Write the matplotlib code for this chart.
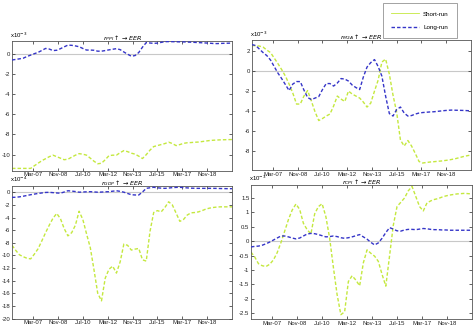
import numpy as np
import pandas as pd
import matplotlib
matplotlib.use('Agg')
import matplotlib.pyplot as plt
from matplotlib.ticker import FuncFormatter

plt.rcParams['font.family'] = ['Liberation Sans', 'DejaVu Sans']
plt.rcParams['axes.unicode_minus'] = False
plt.rcParams['mathtext.fontset'] = 'dejavusans'

# quarterly dates, Q4 2005 .. Q3 2020
dates = pd.date_range('2005-10-01', periods=60, freq='QS')
tick_dates = pd.to_datetime(['2007-03-01', '2008-11-01', '2010-07-01', '2012-03-01',
                             '2013-11-01', '2015-07-01', '2017-03-01', '2018-11-01'])
tick_labels = [d.strftime('%b-%y') for d in tick_dates]

# responses, already divided by the power of ten shown above each panel
ppi_short = [-11.36, -11.36, -11.36, -11.36, -11.36, -11.36, -11.1, -10.85, -10.6, -10.4,
             -10.2, -10.05, -10.2, -10.35, -10.5, -10.45, -10.25, -10.05, -9.9, -9.95,
             -10.05, -10.35, -10.65, -10.9, -10.85, -10.5, -10.1, -10.05, -10.05, -9.8,
             -9.6, -9.7, -9.85, -9.95, -10.15, -10.38, -10.0, -9.55, -9.2, -9.1,
             -9.0, -8.9, -8.76, -8.9, -9.1, -9.0, -8.88, -8.82, -8.8, -8.77,
             -8.75, -8.7, -8.65, -8.6, -8.57, -8.55, -8.53, -8.52, -8.51, -8.5]
ppi_long = [-0.62, -0.57, -0.51, -0.45, -0.28, -0.14, 0.0, 0.13, 0.32, 0.52,
            0.46, 0.31, 0.34, 0.5, 0.68, 0.85, 0.83, 0.77, 0.69, 0.52,
            0.36, 0.36, 0.34, 0.25, 0.25, 0.31, 0.38, 0.44, 0.5, 0.4,
            0.17, -0.05, -0.25, -0.18, 0.12, 0.65, 1.1, 1.06, 1.02, 1.05,
            1.12, 1.19, 1.2, 1.19, 1.18, 1.17, 1.17, 1.15, 1.14, 1.12,
            1.1, 1.08, 1.06, 1.04, 1.01, 1.0, 1.02, 1.03, 1.04, 1.05]

m2a_short = [2.55, 2.55, 2.5, 2.4, 2.1, 1.85, 1.3, 0.75, 0.15, -0.5,
             -1.3, -2.2, -3.3, -3.3, -2.5, -1.95, -3.0, -4.1, -4.95, -4.75,
             -4.5, -4.3, -3.5, -2.5, -2.8, -3.05, -2.0, -2.3, -2.5, -2.7,
             -3.1, -3.6, -3.2, -2.0, -0.9, 0.9, 1.2, -0.3, -2.4, -4.15,
             -6.9, -7.5, -6.95, -7.5, -8.25, -9.05, -9.2, -9.15, -9.1, -9.07,
             -9.03, -9.0, -8.95, -8.9, -8.83, -8.75, -8.65, -8.55, -8.47, -8.4]
m2a_long = [2.65, 2.55, 2.2, 1.85, 1.55, 1.1, 0.45, -0.2, -0.75, -1.35,
            -1.95, -1.3, -1.05, -1.05, -1.9, -2.65, -2.85, -2.7, -2.55, -1.85,
            -1.25, -1.25, -1.5, -1.2, -0.75, -0.8, -1.0, -1.4, -1.65, -1.85,
            -0.6, 0.4, 0.85, 1.15, 0.45, -0.5, -2.5, -4.25, -4.5, -3.85,
            -3.6, -4.2, -4.5, -4.45, -4.3, -4.2, -4.15, -4.12, -4.09, -4.07,
            -4.03, -3.99, -3.95, -3.92, -3.9, -3.92, -3.93, -3.94, -3.96, -3.97]

gdp_short = [-8.4, -9.2, -9.9, -10.2, -10.45, -10.55, -9.8, -8.95, -7.7, -6.4,
             -5.2, -4.1, -3.35, -4.2, -5.75, -6.9, -6.4, -5.2, -3.0, -4.3,
             -6.6, -8.8, -12.3, -16.0, -17.2, -13.6, -12.2, -11.7, -12.8, -11.0,
             -8.2, -8.4, -9.15, -9.0, -8.9, -10.7, -10.9, -6.2, -3.2, -2.9,
             -3.1, -2.4, -1.5, -2.0, -3.3, -4.6, -4.3, -3.6, -3.25, -3.2,
             -3.1, -2.9, -2.65, -2.5, -2.4, -2.33, -2.3, -2.3, -2.3, -2.3]
gdp_long = [-0.8, -0.78, -0.72, -0.62, -0.5, -0.38, -0.28, -0.18, -0.1, -0.02,
            0.0, -0.05, -0.1, -0.14, 0.05, 0.25, 0.2, 0.12, 0.02, 0.05,
            0.08, 0.1, 0.06, 0.02, 0.04, 0.08, 0.1, 0.18, 0.25, 0.15,
            0.02, -0.18, -0.38, -0.42, -0.42, 0.05, 0.63, 0.72, 0.8, 0.72,
            0.66, 0.63, 0.68, 0.74, 0.78, 0.8, 0.75, 0.7, 0.66, 0.64,
            0.63, 0.63, 0.63, 0.63, 0.63, 0.62, 0.6, 0.59, 0.58, 0.58]

cpi_short = [-0.38, -0.55, -0.78, -0.85, -0.88, -0.8, -0.65, -0.4, -0.05, 0.35,
             0.75, 1.08, 1.29, 1.1, 0.62, 0.4, 0.25, 0.95, 1.2, 1.3,
             0.85, 0.1, -0.9, -1.85, -2.55, -2.45, -1.4, -1.2, -1.35, -1.55,
             -0.75, -0.3, -0.42, -0.52, -0.7, -1.15, -1.56, -0.5, 0.55, 1.2,
             1.35, 1.5, 1.75, 1.9, 1.55, 1.2, 1.05, 1.33, 1.4, 1.45,
             1.48, 1.53, 1.57, 1.6, 1.62, 1.64, 1.65, 1.66, 1.65, 1.64]
cpi_long = [-0.2, -0.18, -0.17, -0.14, -0.09, -0.03, 0.04, 0.11, 0.18, 0.18,
            0.15, 0.11, 0.08, 0.11, 0.18, 0.25, 0.27, 0.26, 0.23, 0.19,
            0.15, 0.16, 0.18, 0.16, 0.12, 0.1, 0.12, 0.15, 0.19, 0.23,
            0.15, 0.07, -0.04, -0.13, -0.06, 0.1, 0.3, 0.47, 0.42, 0.36,
            0.35, 0.39, 0.41, 0.41, 0.4, 0.42, 0.44, 0.43, 0.41, 0.4,
            0.4, 0.39, 0.39, 0.38, 0.38, 0.38, 0.38, 0.38, 0.38, 0.38]

titles = [r'$r_{PPI}\uparrow\rightarrow EER$', r'$r_{M2A}\uparrow\rightarrow EER$',
          r'$r_{GDP}\uparrow\rightarrow EER$', r'$r_{CPI}\uparrow\rightarrow EER$']
exponents = [r'x10$^{-3}$', r'x10$^{-3}$', r'x10$^{-4}$', r'x10$^{-3}$']
short_series = [ppi_short, m2a_short, gdp_short, cpi_short]
long_series = [ppi_long, m2a_long, gdp_long, cpi_long]

# layout (figure fractions) and axis settings for each panel
positions = [[0.0253, 0.476, 0.4642, 0.398], [0.5316, 0.477, 0.4620, 0.400],
             [0.0253, 0.023, 0.4642, 0.4064], [0.5295, 0.0215, 0.4662, 0.411]]
ylims = [(-11.6, 1.25), (-9.95, 3.1), (-20, 1.0), (-2.7, 1.95)]
yticks = [np.arange(-10, 1, 2), np.arange(-8, 3, 2), np.arange(-20, 1, 2), np.arange(-2.5, 1.6, 0.5)]

short_color = '#c4e83e'
long_color = '#3535c8'

fig = plt.figure(figsize=(4.74, 3.26), dpi=100)
for i in range(4):
    ax = fig.add_axes(positions[i])
    ax.axhline(0, color='#c8c8c8', lw=0.8, zorder=1)
    ax.plot(dates, short_series[i], color=short_color, lw=1.0, ls=(0, (2.5, 1.5)), zorder=2)
    ax.plot(dates, long_series[i], color=long_color, lw=1.0, ls=(0, (2.5, 1.5)), zorder=3)
    ax.set_xlim(dates[0], dates[-1])
    ax.set_ylim(ylims[i])
    ax.set_xticks(tick_dates)
    ax.set_xticklabels(tick_labels)
    ax.set_yticks(yticks[i])
    ax.yaxis.set_major_formatter(FuncFormatter(lambda v, p: '%g' % round(v, 2)))
    ax.tick_params(direction='in', length=2, width=0.5, top=True, right=True,
                   labelsize=4.3, pad=1.2, colors='#222222')
    for s in ax.spines.values():
        s.set_linewidth(0.6)
        s.set_color('#555555')
    ax.set_title(titles[i], fontsize=4.6, pad=0.8)
    ax.text(-0.01, 1.012, exponents[i], transform=ax.transAxes, fontsize=4.3,
            ha='left', va='bottom')

# legend box in the top right corner
h1, = plt.plot([], [], color=short_color, lw=0.6)
h2, = plt.plot([], [], color=long_color, lw=1.0, ls=(0, (2.5, 1.5)))
leg = fig.legend([h1, h2], ['Short-run', 'Long-run'], loc='upper left',
                 bbox_to_anchor=(383 / 474, 1 - 3 / 326), borderaxespad=0,
                 fontsize=4.5, fancybox=False, handlelength=4.5, handletextpad=0.6,
                 borderpad=1.3, labelspacing=1.3)
leg.get_frame().set_edgecolor('#777777')
leg.get_frame().set_linewidth(0.6)

plt.savefig('out.png', dpi=100)
